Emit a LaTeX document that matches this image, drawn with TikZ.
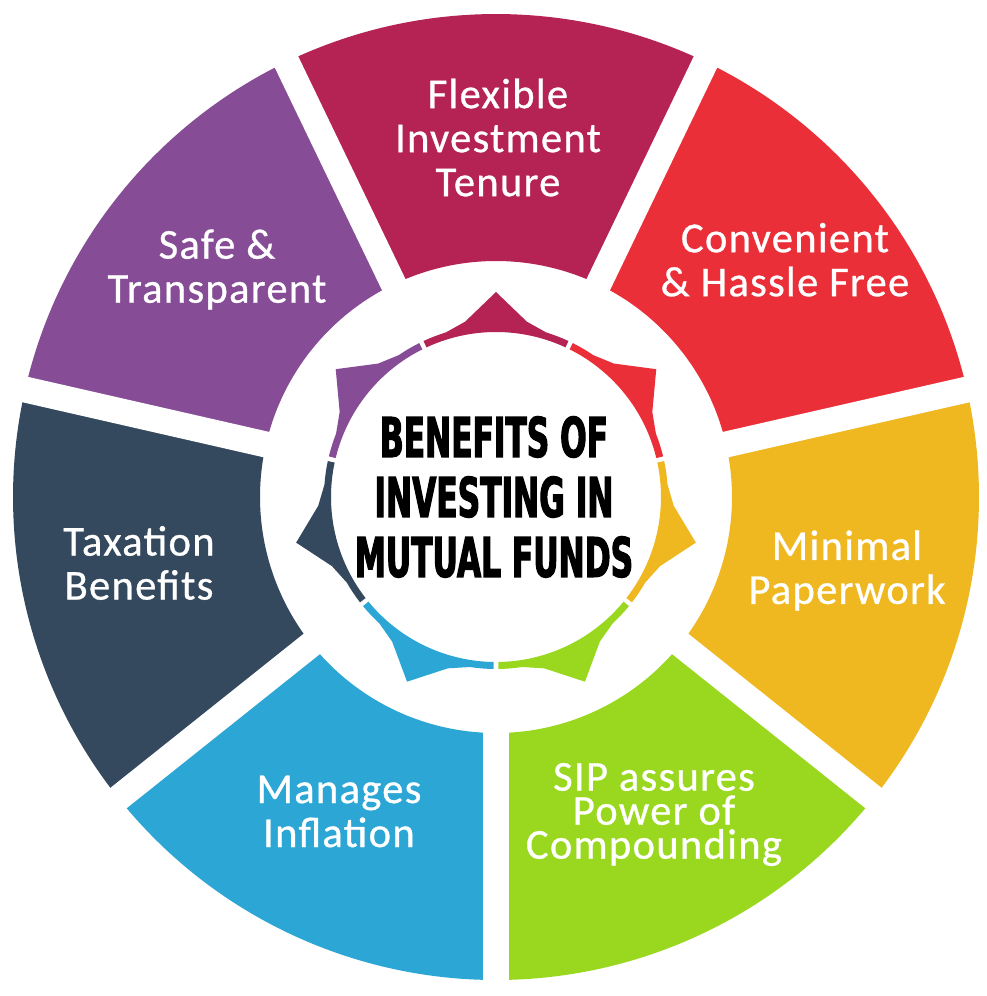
\documentclass[tikz,border=0pt]{standalone}
\usepackage{fontspec}
\newfontfamily\labelfont[LetterSpace=3,FakeBold=0.7]{Carlito}
\newfontfamily\titlefont[FakeStretch=0.57,FakeBold=2]{DejaVu Sans}
\definecolor{segG}{HTML}{99D81F}
\definecolor{segY}{HTML}{EFB820}
\definecolor{segR}{HTML}{EA2F38}
\definecolor{segC}{HTML}{B52254}
\definecolor{segP}{HTML}{864C95}
\definecolor{segD}{HTML}{34495E}
\definecolor{segB}{HTML}{2CA7D5}
\tikzset{
  seglabel/.style={text=white, align=center, inner sep=0pt,
    font=\labelfont\fontsize{21.3pt}{22pt}\selectfont},
  titletext/.style={text=black, align=center, inner sep=0pt,
    font=\titlefont\bfseries\fontsize{27.4pt}{30pt}\selectfont},
  gapline/.style={white, line width=13pt}
}
\begin{document}
\begin{tikzpicture}[x=0.5pt, y=0.5pt]
\fill[white] (-496,-499) rectangle (490,497);
\useasboundingbox (-496,-499) rectangle (490,497);
% outer segments
\foreach \c [count=\i from 0] in {segG,segY,segR,segC,segP,segD,segB} {
  \pgfmathsetmacro\a{-90+\i*360/7}
  \pgfmathsetmacro\b{\a+360/7}
  \fill[\c] ({\a}:483) arc[start angle=\a, end angle=\b, radius=483]
     -- ({\b}:236) arc[start angle=\b, end angle=\a, radius=236] -- cycle;
}
% white gaps
\foreach \i in {0,...,6} {
  \draw[gapline] (0,0) -- ({-90+\i*360/7}:495);
}
% inner ring with pointers
\foreach \c [count=\i from 0] in {segG,segY,segR,segC,segP,segD,segB} {
  \pgfmathsetmacro\a{-90+\i*360/7+0.8}
  \pgfmathsetmacro\b{-90+(\i+1)*360/7-0.8}
  \pgfmathsetmacro\m{-90+(\i+0.5)*360/7}
  \fill[\c] ({\a}:165) -- ({\a}:172)
     arc[start angle=\a, end angle=\m-17, radius=172]
     -- ({\m-10}:178) -- ({\m}:205) -- ({\m+10}:178) -- ({\m+17}:172)
     arc[start angle=\m+17, end angle=\b, radius=172]
     -- ({\b}:165) arc[start angle=\b, end angle=\a, radius=165] -- cycle;
}
% title
\node[titletext] (title) at (-2,0) {BENEFITS OF\\INVESTING IN\\MUTUAL FUNDS};
% labels
\node[seglabel] (flex) at (2,359.5) {Flexible\\Investment\\Tenure};
\node[seglabel] (conv) at (289,237.25) {Convenient\\\& Hassle Free};
\node[seglabel] (mini) at (351,-73.5) {Minimal\\Paperwork};
\node[seglabel, font=\labelfont\fontsize{21.3pt}{17pt}\selectfont] (sip) at (158,-317.5) {SIP assures\\Power of\\Compounding};
\node[seglabel] (mana) at (-157,-314.5) {Manages\\Inflation};
\node[seglabel] (taxa) at (-357,-66) {Taxation\\Benefits};
\node[seglabel] (safe) at (-279,227.5) {Safe \&\\Transparent};
\end{tikzpicture}
\end{document}
